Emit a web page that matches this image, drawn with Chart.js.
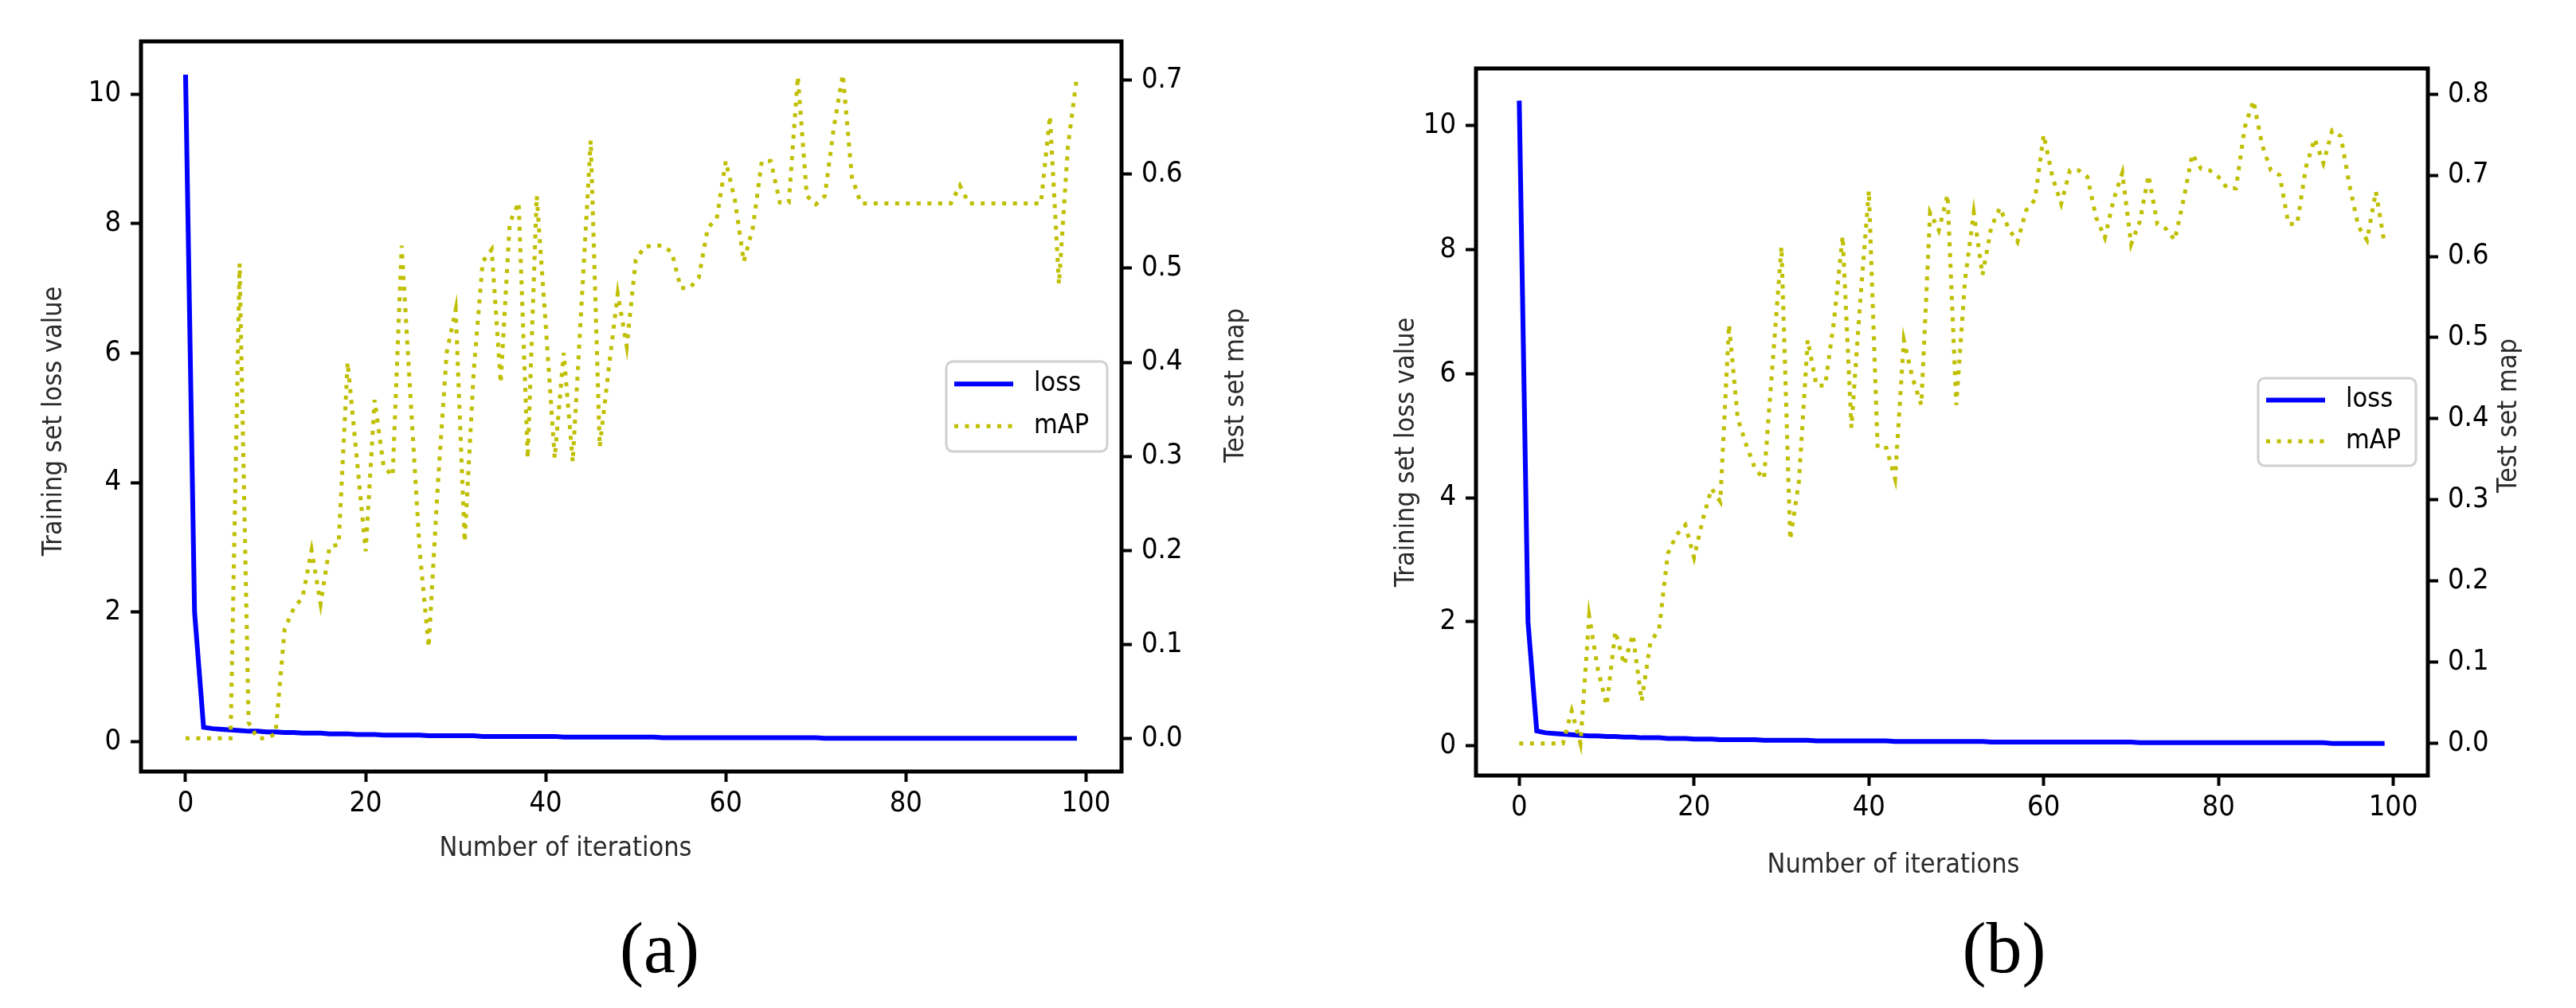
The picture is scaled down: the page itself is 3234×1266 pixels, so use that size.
<!DOCTYPE html>
<html>
<head>
<meta charset="utf-8">
<script src="https://cdn.jsdelivr.net/npm/chart.js@4.4.1/dist/chart.umd.min.js"></script>
<style>
  html, body { margin: 0; padding: 0; background: #fff; }
  #wrap { position: relative; width: 3234px; height: 1266px; overflow: hidden; }
  .panel { position: absolute; top: 0; width: 1617px; height: 1266px; }
  .tag {
    position: absolute; top: 1146px; width: 300px; text-align: center;
    font: 90px 'Liberation Serif', 'Times New Roman', serif; line-height: 1; color: #000;
  }
</style>
</head>
<body>
<div id="wrap">
  <div class="panel" style="left:0"><canvas id="chartA" width="1617" height="1266"></canvas></div>
  <div class="panel" style="left:1617px"><canvas id="chartB" width="1617" height="1266"></canvas></div>
  <div class="tag" style="left:678px">(a)</div>
  <div class="tag" style="left:2366px">(b)</div>
</div>
<script>
// iterations on the x axis
const iterations = [
  0, 1, 2, 3, 4, 5, 6, 7, 8, 9, 10, 11, 12, 13, 14, 15, 16, 17, 18, 19,
  20, 21, 22, 23, 24, 25, 26, 27, 28, 29, 30, 31, 32, 33, 34, 35, 36, 37, 38, 39,
  40, 41, 42, 43, 44, 45, 46, 47, 48, 49, 50, 51, 52, 53, 54, 55, 56, 57, 58, 59,
  60, 61, 62, 63, 64, 65, 66, 67, 68, 69, 70, 71, 72, 73, 74, 75, 76, 77, 78, 79,
  80, 81, 82, 83, 84, 85, 86, 87, 88, 89, 90, 91, 92, 93, 94, 95, 96, 97, 98, 99
];

// (a)
const lossA = [
  10.3, 2.0, 0.22, 0.20, 0.19, 0.18, 0.17, 0.16, 0.16, 0.15,
  0.15, 0.14, 0.14, 0.13, 0.13, 0.13, 0.12, 0.12, 0.12, 0.11,
  0.11, 0.11, 0.10, 0.10, 0.10, 0.10, 0.10, 0.09, 0.09, 0.09,
  0.09, 0.09, 0.09, 0.08, 0.08, 0.08, 0.08, 0.08, 0.08, 0.08,
  0.08, 0.08, 0.07, 0.07, 0.07, 0.07, 0.07, 0.07, 0.07, 0.07,
  0.07, 0.07, 0.07, 0.06, 0.06, 0.06, 0.06, 0.06, 0.06, 0.06,
  0.06, 0.06, 0.06, 0.06, 0.06, 0.06, 0.06, 0.06, 0.06, 0.06,
  0.06, 0.05, 0.05, 0.05, 0.05, 0.05, 0.05, 0.05, 0.05, 0.05,
  0.05, 0.05, 0.05, 0.05, 0.05, 0.05, 0.05, 0.05, 0.05, 0.05,
  0.05, 0.05, 0.05, 0.05, 0.05, 0.05, 0.05, 0.05, 0.05, 0.05
];
const mapA = [
  0, 0, 0, 0, 0, 0, 0.505, 0.017, 0, 0,
  0.005, 0.116, 0.138, 0.15, 0.2, 0.143, 0.204, 0.206, 0.40, 0.30,
  0.199, 0.36, 0.289, 0.279, 0.524, 0.36, 0.2, 0.097, 0.267, 0.41,
  0.456, 0.209, 0.39, 0.507, 0.52, 0.378, 0.548, 0.570, 0.298, 0.577,
  0.44, 0.298, 0.41, 0.294, 0.466, 0.636, 0.31, 0.393, 0.473, 0.417,
  0.509, 0.523, 0.524, 0.524, 0.517, 0.479, 0.479, 0.49, 0.543, 0.553,
  0.614, 0.573, 0.507, 0.543, 0.614, 0.614, 0.570, 0.570, 0.704, 0.577,
  0.568, 0.577, 0.65, 0.706, 0.597, 0.569, 0.569, 0.569, 0.569, 0.569,
  0.569, 0.569, 0.569, 0.569, 0.569, 0.569, 0.588, 0.569, 0.569, 0.569,
  0.569, 0.569, 0.569, 0.569, 0.569, 0.569, 0.662, 0.483, 0.63, 0.704
];

// (b)
const lossB = [
  10.4, 2.0, 0.24, 0.21, 0.20, 0.19, 0.18, 0.17, 0.16, 0.16,
  0.15, 0.15, 0.14, 0.14, 0.13, 0.13, 0.13, 0.12, 0.12, 0.12,
  0.11, 0.11, 0.11, 0.10, 0.10, 0.10, 0.10, 0.10, 0.09, 0.09,
  0.09, 0.09, 0.09, 0.09, 0.08, 0.08, 0.08, 0.08, 0.08, 0.08,
  0.08, 0.08, 0.08, 0.07, 0.07, 0.07, 0.07, 0.07, 0.07, 0.07,
  0.07, 0.07, 0.07, 0.07, 0.06, 0.06, 0.06, 0.06, 0.06, 0.06,
  0.06, 0.06, 0.06, 0.06, 0.06, 0.06, 0.06, 0.06, 0.06, 0.06,
  0.06, 0.05, 0.05, 0.05, 0.05, 0.05, 0.05, 0.05, 0.05, 0.05,
  0.05, 0.05, 0.05, 0.05, 0.05, 0.05, 0.05, 0.05, 0.05, 0.05,
  0.05, 0.05, 0.05, 0.04, 0.04, 0.04, 0.04, 0.04, 0.04, 0.04
];
const mapB = [
  0, 0, 0, 0, 0, 0, 0.04, 0.0, 0.157, 0.091,
  0.047, 0.138, 0.097, 0.134, 0.052, 0.124, 0.141, 0.234, 0.257, 0.269,
  0.229, 0.276, 0.314, 0.298, 0.516, 0.40, 0.367, 0.338, 0.326, 0.47,
  0.612, 0.251, 0.323, 0.497, 0.441, 0.441, 0.52, 0.625, 0.389, 0.543,
  0.681, 0.364, 0.364, 0.326, 0.497, 0.45, 0.417, 0.654, 0.632, 0.676,
  0.417, 0.571, 0.654, 0.577, 0.636, 0.66, 0.634, 0.618, 0.657, 0.67,
  0.75, 0.698, 0.665, 0.706, 0.706, 0.698, 0.648, 0.623, 0.67, 0.703,
  0.615, 0.643, 0.70, 0.64, 0.634, 0.62, 0.67, 0.726, 0.708, 0.706,
  0.698, 0.684, 0.684, 0.759, 0.792, 0.737, 0.706, 0.70, 0.64, 0.64,
  0.71, 0.745, 0.715, 0.755, 0.748, 0.687, 0.637, 0.62, 0.68, 0.615
];

// ticks and names
const xTicks = [0, 20, 40, 60, 80, 100];
const lossTicks = [0, 2, 4, 6, 8, 10];
const mapTicksA = [0, 0.1, 0.2, 0.3, 0.4, 0.5, 0.6, 0.7];
const mapTicksB = [0, 0.1, 0.2, 0.3, 0.4, 0.5, 0.6, 0.7, 0.8];
const seriesNames = ['loss', 'mAP'];
const xTitle = 'Number of iterations';
const yTitle = 'Training set loss value';
const y1Title = 'Test set map';

const FONT = "'DejaVu Sans Condensed', 'DejaVu Sans', sans-serif";
const LOSS_COLOR = '#0000ff';
const MAP_COLOR = '#bfbf00';

// matplotlib-like 5% margins
function padRange(values) {
  const lo = Math.min(...values);
  const hi = Math.max(...values);
  const m = (hi - lo) * 0.05;
  return { min: lo - m, max: hi + m };
}

const framePlugin = {
  id: 'frame',
  afterDatasetsDraw(chart) {
    const { ctx, chartArea: a } = chart;
    ctx.save();
    ctx.strokeStyle = '#000';
    ctx.lineWidth = 5;
    ctx.strokeRect(a.left, a.top, a.right - a.left, a.bottom - a.top);
    ctx.restore();
  }
};

const boxLegend = {
  id: 'boxLegend',
  afterDraw(chart, args, opts) {
    const { ctx, chartArea: a } = chart;
    const w = opts.width, h = opts.height;
    const left = a.right - opts.right - w;
    const top = (a.top + a.bottom) / 2 - h / 2;
    ctx.save();
    ctx.beginPath();
    ctx.roundRect(left, top, w, h, 8);
    ctx.fillStyle = 'rgba(255,255,255,0.8)';
    ctx.fill();
    ctx.strokeStyle = '#d0d0d0';
    ctx.lineWidth = 3;
    ctx.stroke();
    const rows = [top + h * 0.25, top + h * 0.72];
    const order = [1, 0]; // loss first, then mAP
    order.forEach((di, r) => {
      const ds = chart.data.datasets[di];
      ctx.beginPath();
      ctx.setLineDash(ds.borderDash || []);
      ctx.lineWidth = ds.borderWidth;
      ctx.strokeStyle = ds.borderColor;
      ctx.moveTo(left + 10, rows[r]);
      ctx.lineTo(left + 84, rows[r]);
      ctx.stroke();
      ctx.setLineDash([]);
      ctx.fillStyle = '#000';
      ctx.font = '34px ' + FONT;
      ctx.textBaseline = 'middle';
      ctx.textAlign = 'left';
      ctx.fillText(ds.label, left + 110, rows[r]);
    });
    ctx.restore();
  }
};

const axisTitles = {
  id: 'axisTitles',
  afterDraw(chart, args, opts) {
    const ctx = chart.ctx;
    opts.items.forEach((t) => {
      ctx.save();
      ctx.translate(t.x, t.y);
      ctx.rotate(t.rotate || 0);
      ctx.font = '34px ' + FONT;
      ctx.fillStyle = '#2a2a2a';
      ctx.textAlign = 'center';
      ctx.textBaseline = 'middle';
      ctx.fillText(t.text, 0, 0);
      ctx.restore();
    });
  }
};

function tickGrid() {
  return { display: true, drawOnChartArea: false, drawTicks: true, tickLength: 13, tickWidth: 4, tickColor: '#000' };
}

function makeChart(id, loss, map, mapTicks, lay) {
  const xr = padRange(iterations);
  const yr = padRange(loss);
  const y1r = padRange(map);
  return new Chart(document.getElementById(id), {
    type: 'line',
    data: {
      labels: iterations,
      datasets: [
        {
          label: seriesNames[1], data: map, yAxisID: 'y1',
          borderColor: MAP_COLOR, borderWidth: 5, borderDash: [5, 8.5], borderCapStyle: 'butt',
          pointRadius: 0, tension: 0, fill: false
        },
        {
          label: seriesNames[0], data: loss, yAxisID: 'y',
          borderColor: LOSS_COLOR, borderWidth: 6,
          pointRadius: 0, tension: 0, fill: false
        }
      ]
    },
    options: {
      responsive: false,
      animation: false,
      devicePixelRatio: 1,
      layout: { padding: { top: lay.top, left: 0, right: 0, bottom: 0 } },
      plugins: {
        legend: { display: false },
        tooltip: { enabled: false },
        boxLegend: { width: lay.legendW, height: lay.legendH, right: lay.legendRight },
        axisTitles: {
          items: [
            { text: xTitle, x: lay.xTitle[0], y: lay.xTitle[1] },
            { text: yTitle, x: lay.yTitle[0], y: lay.yTitle[1], rotate: -Math.PI / 2 },
            { text: y1Title, x: lay.y1Title[0], y: lay.y1Title[1], rotate: -Math.PI / 2 }
          ]
        }
      },
      scales: {
        x: {
          type: 'linear', min: xr.min, max: xr.max,
          grid: tickGrid(), border: { display: false },
          afterBuildTicks: (s) => { s.ticks = xTicks.map((v) => ({ value: v })); },
          afterFit: (s) => { s.height = lay.xHeight; },
          ticks: { color: '#000', font: { family: FONT, size: 36 }, padding: 6, maxRotation: 0, callback: (v) => String(v) }
        },
        y: {
          position: 'left', min: yr.min, max: yr.max,
          grid: tickGrid(), border: { display: false },
          afterBuildTicks: (s) => { s.ticks = lossTicks.map((v) => ({ value: v })); },
          afterFit: (s) => { s.width = lay.yWidth; },
          ticks: { color: '#000', font: { family: FONT, size: 36 }, padding: 12, callback: (v) => String(v) }
        },
        y1: {
          position: 'right', min: y1r.min, max: y1r.max,
          grid: tickGrid(), border: { display: false },
          afterBuildTicks: (s) => { s.ticks = mapTicks.map((v) => ({ value: v })); },
          afterFit: (s) => { s.width = lay.y1Width; },
          ticks: { color: '#000', font: { family: FONT, size: 36 }, padding: 12, callback: (v) => v.toFixed(1) }
        }
      }
    },
    plugins: [framePlugin, boxLegend, axisTitles]
  });
}

makeChart('chartA', lossA, mapA, mapTicksA, {
  top: 52, yWidth: 177, y1Width: 209, xHeight: 297,
  legendW: 202, legendH: 113, legendRight: 18,
  xTitle: [710, 1066], yTitle: [68, 529], y1Title: [1552, 484]
});
makeChart('chartB', lossB, mapB, mapTicksB, {
  top: 86, yWidth: 236, y1Width: 186, xHeight: 292,
  legendW: 198, legendH: 110, legendRight: 15,
  xTitle: [760, 1087], yTitle: [149, 568], y1Title: [1533, 522]
});
</script>
</body>
</html>
